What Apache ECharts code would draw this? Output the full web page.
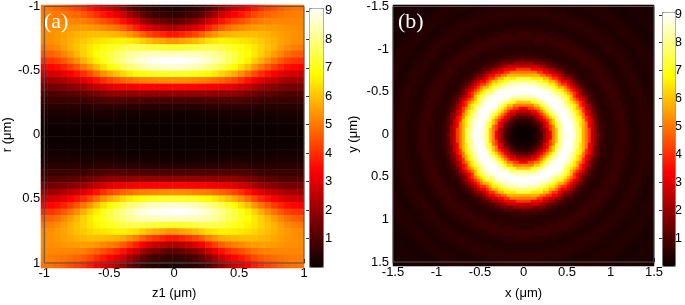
<!DOCTYPE html>
<html>
<head>
<meta charset="utf-8">
<script src="https://cdn.jsdelivr.net/npm/echarts@6/dist/echarts.min.js"></script>
<style>
  html, body { margin: 0; padding: 0; background: #fff; }
  #chart { width: 685px; height: 305px; }
</style>
</head>
<body>
<div id="chart"></div>
<script>
// ---- panel (a): cell centres (um), 0.05 apart
const zCells = [-0.975, -0.925, -0.875, -0.825, -0.775, -0.725, -0.675, -0.625, -0.575, -0.525,
  -0.475, -0.425, -0.375, -0.325, -0.275, -0.225, -0.175, -0.125, -0.075, -0.025,
  0.025, 0.075, 0.125, 0.175, 0.225, 0.275, 0.325, 0.375, 0.425, 0.475,
  0.525, 0.575, 0.625, 0.675, 0.725, 0.775, 0.825, 0.875, 0.925, 0.975]
const rCells = zCells.slice()

// intensity in (a), rows |r| = 0.025 .. 0.975, columns |z1| = 0.025 .. 0.975
// (the picture is mirror symmetric in z1 and in r)
const aRows = [
  [0, 0, 0, 0.01, 0.01, 0.01, 0.01, 0.01, 0.01, 0.02, 0.02, 0.02, 0.02, 0.02, 0.03, 0.03, 0.04, 0.04, 0.05, 0.06],
  [0.02, 0.02, 0.02, 0.02, 0.02, 0.02, 0.03, 0.03, 0.04, 0.04, 0.05, 0.05, 0.05, 0.05, 0.06, 0.06, 0.07, 0.08, 0.09, 0.11],
  [0.06, 0.06, 0.06, 0.06, 0.07, 0.07, 0.08, 0.09, 0.1, 0.11, 0.12, 0.11, 0.11, 0.11, 0.12, 0.13, 0.14, 0.15, 0.16, 0.19],
  [0.17, 0.17, 0.17, 0.17, 0.19, 0.2, 0.2, 0.22, 0.25, 0.26, 0.26, 0.25, 0.23, 0.22, 0.24, 0.25, 0.25, 0.26, 0.28, 0.32],
  [0.43, 0.43, 0.43, 0.44, 0.47, 0.48, 0.49, 0.51, 0.54, 0.56, 0.54, 0.51, 0.47, 0.43, 0.45, 0.44, 0.44, 0.44, 0.46, 0.51],
  [0.99, 0.99, 0.98, 0.99, 1.02, 1.02, 1.02, 1.05, 1.08, 1.07, 1.03, 0.95, 0.86, 0.78, 0.78, 0.75, 0.72, 0.7, 0.72, 0.78],
  [1.97, 1.97, 1.95, 1.95, 1.98, 1.96, 1.94, 1.93, 1.93, 1.88, 1.78, 1.62, 1.46, 1.32, 1.26, 1.19, 1.13, 1.08, 1.08, 1.13],
  [3.45, 3.44, 3.42, 3.4, 3.38, 3.33, 3.26, 3.19, 3.12, 2.99, 2.8, 2.55, 2.29, 2.05, 1.92, 1.78, 1.67, 1.56, 1.54, 1.59],
  [5.32, 5.31, 5.28, 5.22, 5.14, 5.04, 4.9, 4.74, 4.55, 4.32, 4.03, 3.67, 3.31, 2.97, 2.74, 2.52, 2.33, 2.17, 2.11, 2.13],
  [7.23, 7.21, 7.16, 7.08, 6.93, 6.77, 6.55, 6.3, 6.01, 5.69, 5.31, 4.87, 4.42, 3.99, 3.65, 3.35, 3.08, 2.86, 2.76, 2.75],
  [8.65, 8.63, 8.57, 8.47, 8.29, 8.09, 7.83, 7.52, 7.17, 6.8, 6.39, 5.94, 5.45, 4.98, 4.57, 4.2, 3.87, 3.6, 3.45, 3.4],
  [9.1, 9.08, 9.02, 8.93, 8.78, 8.6, 8.35, 8.06, 7.73, 7.4, 7.04, 6.65, 6.22, 5.77, 5.35, 4.96, 4.6, 4.29, 4.11, 4.03],
  [8.53, 8.55, 8.52, 8.49, 8.44, 8.33, 8.15, 7.93, 7.66, 7.4, 7.13, 6.85, 6.54, 6.21, 5.86, 5.52, 5.18, 4.89, 4.69, 4.59],
  [7.19, 7.28, 7.33, 7.41, 7.5, 7.56, 7.52, 7.45, 7.28, 7.11, 6.92, 6.72, 6.5, 6.25, 6.02, 5.79, 5.53, 5.29, 5.11, 5.01],
  [5.45, 5.61, 5.74, 5.93, 6.17, 6.42, 6.57, 6.67, 6.66, 6.59, 6.51, 6.42, 6.29, 6.13, 5.95, 5.78, 5.6, 5.45, 5.33, 5.24],
  [3.71, 3.91, 4.09, 4.35, 4.71, 5.11, 5.42, 5.71, 5.84, 5.9, 5.94, 5.96, 5.95, 5.88, 5.79, 5.67, 5.54, 5.43, 5.35, 5.28],
  [2.27, 2.47, 2.65, 2.93, 3.32, 3.81, 4.24, 4.66, 4.93, 5.1, 5.24, 5.39, 5.49, 5.53, 5.52, 5.47, 5.41, 5.35, 5.3, 5.25],
  [1.24, 1.41, 1.57, 1.8, 2.17, 2.66, 3.13, 3.63, 3.99, 4.25, 4.48, 4.73, 4.95, 5.1, 5.17, 5.2, 5.22, 5.23, 5.21, 5.19],
  [0.62, 0.73, 0.84, 1.02, 1.31, 1.74, 2.19, 2.71, 3.11, 3.41, 3.71, 4.04, 4.36, 4.6, 4.76, 4.86, 4.97, 5.05, 5.09, 5.09],
  [0.28, 0.34, 0.41, 0.53, 0.73, 1.06, 1.45, 1.92, 2.33, 2.65, 2.97, 3.36, 3.75, 4.07, 4.3, 4.47, 4.67, 4.83, 4.93, 4.97]
]

// ---- panel (b): radial profile of the ring (radius in um -> intensity)
const ringR = [0, 0.025, 0.05, 0.075, 0.1, 0.125, 0.15, 0.175, 0.2, 0.225,
  0.25, 0.275, 0.3, 0.325, 0.35, 0.375, 0.4, 0.425, 0.45, 0.475,
  0.5, 0.525, 0.55, 0.575, 0.6, 0.625, 0.65, 0.675, 0.7, 0.725,
  0.75, 0.775, 0.8, 0.825, 0.85, 0.875, 0.9, 0.925, 0.95, 0.975,
  1.0, 1.05, 1.1, 1.15, 1.2, 1.25, 1.3, 1.35, 1.4, 1.45,
  1.5, 1.55, 1.6, 1.65, 1.7, 1.75, 1.8, 1.85, 1.9, 1.95,
  2.0, 2.05, 2.1, 2.15]
const ringV = [0, 0, 0.02, 0.05, 0.1, 0.2, 0.35, 0.6, 0.95, 1.4,
  1.9, 2.6, 3.3, 4.2, 5.1, 6.1, 7.0, 7.9, 8.5, 8.9,
  9.1, 9.1, 9.0, 8.8, 8.4, 7.9, 7.3, 6.6, 5.8, 5.0,
  4.1, 3.3, 2.6, 2.0, 1.5, 1.1, 0.8, 0.6, 0.5, 0.45,
  0.45, 0.55, 0.7, 0.7, 0.55, 0.4, 0.35, 0.45, 0.55, 0.5,
  0.4, 0.3, 0.35, 0.4, 0.4, 0.3, 0.25, 0.25, 0.3, 0.3,
  0.25, 0.2, 0.2, 0.2]

// tick labels of the colour bars
const barTicks = [1, 2, 3, 4, 5, 6, 7, 8, 9]

const hot = ['#0a0000', '#550000', '#aa0000', '#ff0000', '#ff5500', '#ffaa00', '#ffff00', '#ffff80', '#ffffff']
const font = 'Liberation Sans, Arial, sans-serif'

// build heatmap tables
const aData = []
rCells.forEach((r, j) => {
  const row = aRows[Math.round((Math.abs(r) - 0.025) / 0.05)]
  zCells.forEach((z, i) => {
    aData.push([i, j, row[Math.round((Math.abs(z) - 0.025) / 0.05)]])
  })
})

// 87 cells of 3 px across the 261 px square of (b)
const bCells = []
for (let i = 0; i < 87; i++) bCells.push(+(-1.5 + (i + 0.5) * 3 / 87).toFixed(4))
const nearestRing = d => {
  let k = 0
  for (let n = 1; n < ringR.length; n++) {
    if (Math.abs(ringR[n] - d) < Math.abs(ringR[k] - d)) k = n
  }
  return ringV[k]
}
const bData = []
bCells.forEach((y, j) => {
  bCells.forEach((x, i) => {
    bData.push([i, j, nearestRing(Math.sqrt(x * x + y * y))])
  })
})

const labelStyle = { color: '#000', fontSize: 13, fontFamily: font }

const catAxis = (gridIndex, data, inverse) => ({
  type: 'category', gridIndex, data, inverse: !!inverse, show: false
})

const valAxis = (gridIndex, ext, extra) => Object.assign({
  type: 'value', gridIndex, min: -ext, max: ext, interval: 0.5,
  axisLine: { show: true, onZero: false, lineStyle: { color: '#555', width: 1 } },
  axisTick: { show: true, inside: true, length: 4, lineStyle: { color: '#000' } },
  axisLabel: Object.assign({ margin: 4 }, labelStyle),
  splitLine: { show: false },
  nameLocation: 'middle',
  nameTextStyle: labelStyle
}, extra)

const barAxis = gridIndex => ({
  type: 'value', gridIndex, min: 0, max: 9.1, position: 'right',
  axisLine: { show: false },
  axisTick: { show: true, inside: true, length: 3, customValues: barTicks, lineStyle: { color: '#333' } },
  axisLabel: Object.assign({ margin: 2, customValues: barTicks }, labelStyle),
  splitLine: { show: false }
})

const frame = { show: true, borderColor: '#555', borderWidth: 1, backgroundColor: 'transparent', z: 5 }
const panelTitle = { color: '#fff', fontSize: 22, fontWeight: 'normal', fontFamily: 'Liberation Serif, serif' }

const option = {
  animation: false,
  title: [
    { text: '(a)', left: 44, top: 11, padding: 0, textStyle: panelTitle },
    { text: '(b)', left: 398, top: 11, padding: 0, textStyle: panelTitle }
  ],
  grid: [
    { left: 41, top: 5, width: 263, height: 263 },
    Object.assign({ left: 41, top: 5, width: 263, height: 263 }, frame),
    { left: 393, top: 5, width: 261, height: 261 },
    Object.assign({ left: 393, top: 5, width: 261, height: 261 }, frame),
    { left: 309, top: 8, width: 14, height: 259 },
    { left: 662, top: 12, width: 13, height: 254 }
  ],
  xAxis: [
    catAxis(0, zCells),
    valAxis(1, 1, { name: 'z1 (\u03bcm)', nameGap: 24 }),
    catAxis(2, bCells),
    valAxis(3, 1.5, { name: 'x (\u03bcm)', nameGap: 25 }),
    { type: 'value', gridIndex: 4, show: false },
    { type: 'value', gridIndex: 5, show: false }
  ],
  yAxis: [
    catAxis(0, rCells, true),
    valAxis(1, 1, { inverse: true, name: 'r (\u03bcm)', nameGap: 27 }),
    catAxis(2, bCells, true),
    valAxis(3, 1.5, { inverse: true, name: 'y (\u03bcm)', nameGap: 33 }),
    barAxis(4),
    barAxis(5)
  ],
  visualMap: [
    { type: 'continuous', seriesIndex: 0, min: 0, max: 9.1, calculable: false,
      left: 309, top: 8, itemWidth: 14, itemHeight: 259, padding: 0,
      borderColor: '#888', borderWidth: 1, inRange: { color: hot } },
    { type: 'continuous', seriesIndex: 1, min: 0, max: 9.1, calculable: false,
      left: 662, top: 12, itemWidth: 13, itemHeight: 254, padding: 0,
      borderColor: '#888', borderWidth: 1, inRange: { color: hot } }
  ],
  series: [
    { type: 'heatmap', xAxisIndex: 0, yAxisIndex: 0, data: aData,
      progressive: 0, emphasis: { disabled: true } },
    { type: 'heatmap', xAxisIndex: 2, yAxisIndex: 2, data: bData,
      progressive: 0, emphasis: { disabled: true } }
  ]
}

const chart = echarts.init(document.getElementById('chart'))
chart.setOption(option)
</script>
</body>
</html>
